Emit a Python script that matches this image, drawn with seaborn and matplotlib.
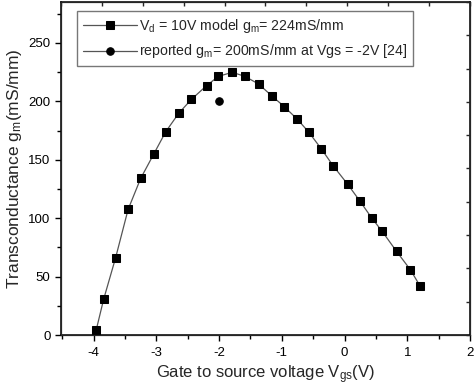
import numpy as np
import pandas as pd
import matplotlib
matplotlib.use('Agg')
import matplotlib.pyplot as plt
import seaborn as sns

# model curve, Vd = 10V
vgs_model = [-3.96, -3.84, -3.65, -3.45, -3.25, -3.04, -2.85, -2.64, -2.44, -2.20,
             -2.01, -1.79, -1.59, -1.37, -1.15, -0.96, -0.75, -0.57, -0.37, -0.18,
             0.05, 0.24, 0.43, 0.60, 0.83, 1.05, 1.20]
gm_model = [4, 30.6, 66, 107.5, 134, 155, 174, 190, 201.7, 213.4,
            221.4, 224.8, 221.4, 214.8, 204.2, 195.4, 184.5, 173.6, 159.3, 144.7,
            129, 115, 100.4, 88.7, 71.5, 55.8, 42.3]

# reported value [24]
vgs_rep = [-2.0]
gm_rep = [200]

label_model = r'V$_\mathrm{d}$ = 10V model g$_\mathrm{m}$= 224mS/mm'
label_rep = r'reported g$_\mathrm{m}$= 200mS/mm at Vgs = -2V [24]'

sns.set_style('ticks')
plt.rcParams['font.family'] = ['Liberation Sans', 'DejaVu Sans']
plt.rcParams['mathtext.fontset'] = 'custom'
plt.rcParams['mathtext.rm'] = 'Liberation Sans'
plt.rcParams['mathtext.it'] = 'Liberation Sans:italic'

df_model = pd.DataFrame({'vgs': vgs_model, 'gm': gm_model})
df_rep = pd.DataFrame({'vgs': vgs_rep, 'gm': gm_rep})

fig = plt.figure(figsize=(4.74, 3.89), dpi=100)
ax = fig.add_axes([61 / 474, 1 - 335 / 389, 409 / 474, 333 / 389])

sns.lineplot(data=df_model, x='vgs', y='gm', ax=ax, color='#555555', lw=0.9,
             marker='s', markersize=5.2, markerfacecolor='black',
             markeredgecolor='black', label=label_model)
sns.lineplot(data=df_rep, x='vgs', y='gm', ax=ax, color='#555555', lw=0.9,
             marker='o', markersize=5.4, markerfacecolor='black',
             markeredgecolor='black', label=label_rep)

ax.set_xlim(-4.52, 2)
ax.set_ylim(0, 285)
ax.set_xticks([-4, -3, -2, -1, 0, 1, 2])
ax.set_xticks(np.arange(-4.5, 2.01, 0.5), minor=True)
ax.set_yticks([0, 50, 100, 150, 200, 250])
ax.set_yticks(np.arange(0, 285, 25), minor=True)
ax.tick_params(which='both', direction='out', colors='black', labelsize=9.5, width=1)
ax.tick_params(which='major', length=4)
ax.tick_params(which='minor', length=3)
ax.tick_params(axis='x', pad=5)
ax.set_xticklabels(['-4', '-3', '-2', '-1', '0', '1', '2'])

for s in ax.spines.values():
    s.set_color('black')
    s.set_linewidth(1.1)

# leftover mirrored axes (top/right) with their own inward ticks
axt = ax.twiny()
axt.set_xlim(0, 10)
axt.set_xticks(range(11))
axt.tick_params(direction='in', length=3, labeltop=False, width=1)
axr = ax.twinx()
axr.set_ylim(0, 10)
axr.set_yticks(range(11))
axr.tick_params(direction='in', length=3, labelright=False, width=1)

ax.set_xlabel(r'Gate to source voltage V$_\mathrm{gs}$(V)', fontsize=12, labelpad=3)
ax.set_ylabel(r'Transconductance g$_\mathrm{m}$(mS/mm)', fontsize=12.5, labelpad=3)

leg = ax.legend(loc='upper left', bbox_to_anchor=(16 / 409, 1 - 9 / 333),
                fontsize=10.2, frameon=True, fancybox=False, handlelength=3.8,
                handletextpad=0.2, borderpad=0.4, labelspacing=0.55,
                borderaxespad=0)
leg.get_frame().set_edgecolor('#777777')
leg.get_frame().set_linewidth(1)
leg.get_frame().set_alpha(1)

fig.savefig('out.png', dpi=100)
